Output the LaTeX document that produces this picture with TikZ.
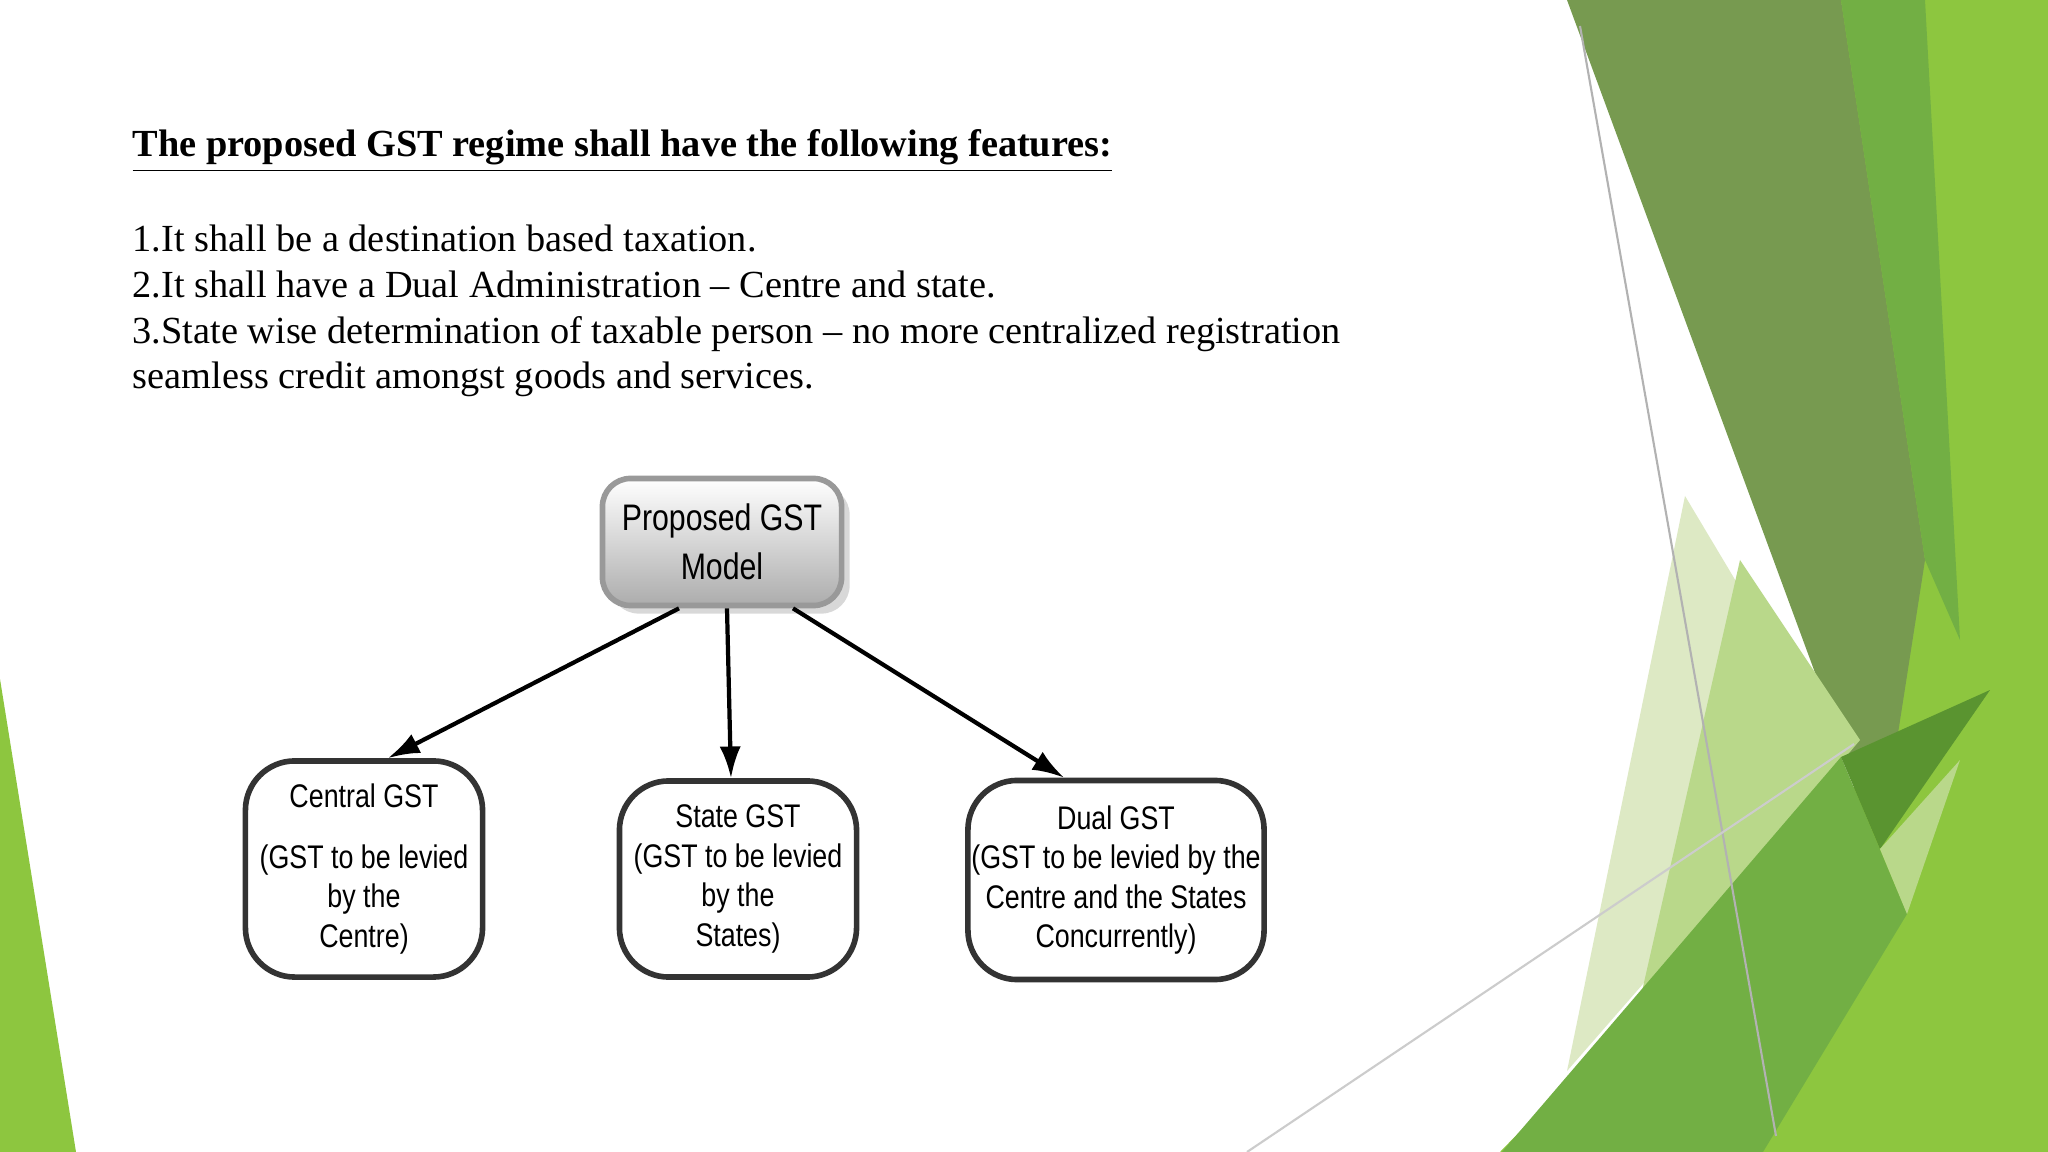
\documentclass[tikz,border=0pt]{standalone}
\usepackage{fontspec}
\setmainfont{Liberation Serif}
\newfontfamily\boxfont{Liberation Sans}[FakeStretch=0.82]
\usetikzlibrary{arrows.meta,shadows}
\definecolor{olive}{HTML}{779A50}
\definecolor{bright}{HTML}{8DC63F}
\definecolor{midg}{HTML}{72AF44}
\definecolor{pale}{HTML}{DDE9C4}
\definecolor{paler}{HTML}{B9D88A}
\definecolor{darkg}{HTML}{5A9430}
\begin{document}
\begin{tikzpicture}[x=0.01cm,y=-0.01cm,
  box/.style={draw=black!80,line width=1.6pt,rounded corners=14,fill=white,align=center,
    font=\boxfont\fontsize{9.3}{11.2}\selectfont,inner sep=0pt},
  arr/.style={line width=1.2pt,-{Latex[length=9pt,width=6pt]}},
  body/.style={anchor=base west,font=\fontsize{10.9}{12}\selectfont,inner sep=0}]
\useasboundingbox (0,0) rectangle (2048,1152);
\fill[white] (0,0) rectangle (2048,1152);
% decoration
\fill[bright] (0,679) -- (76,1152) -- (0,1152) -- cycle;
\fill[bright] (1841,0) -- (2048,0) -- (2048,1152) -- (1500,1152) -- (1880,760) -- cycle;
\fill[olive] (1567,0) -- (1841,0) -- (1925,560) -- (1880,849) -- cycle;
\fill[midg] (1841,0) -- (1925,0) -- (1960,640) -- (1925,560) -- cycle;
\fill[pale] (1685,496) -- (1841,757) -- (1567,1071) -- cycle;
\fill[paler] (1740,560) -- (1860,740) -- (1640,1000) -- cycle;
\fill[midg] (1502,1152) -- (1841,757) -- (1907,914) -- (1763,1152) -- cycle;
\fill[darkg] (1841,757) -- (1990,690) -- (1880,849) -- cycle;
\fill[paler] (1880,849) -- (1960,760) -- (1907,914) -- cycle;
\draw[gray!60,line width=0.6pt] (1580,26) -- (1776,1136);
\draw[gray!40,line width=0.6pt] (1247,1152) -- (1854,744);
% text
\node[body,font=\fontsize{10.9}{12}\selectfont\bfseries] (title) at (132,157) {\underline{The proposed GST regime shall have the following features:}};
\node[body] (l1) at (132,252) {1.It shall be a destination based taxation.};
\node[body] (l2) at (132,298) {2.It shall have a Dual Administration – Centre and state.};
\node[body] (l3) at (132,344) {3.State wise determination of taxable person – no more centralized registration};
\node[body] (l4) at (132,389) {seamless credit amongst goods and services.};
% diagram
\node[box,minimum width=2.39cm,minimum height=1.27cm,rounded corners=8,draw=gray!80,
  top color=white,bottom color=gray!65,drop shadow={opacity=0.3},
  font=\boxfont\fontsize{10.5}{14}\selectfont] (p) at (722,542) {Proposed GST\\Model};
\node[box,minimum width=2.37cm,minimum height=2.16cm] (c) at (364,869) {Central GST\\[6pt](GST to be levied\\by the\\Centre)};
\node[box,minimum width=2.37cm,minimum height=1.96cm] (s) at (738,879) {State GST\\(GST to be levied\\by the\\States)};
\node[box,minimum width=2.96cm,minimum height=1.99cm] (d) at (1116,880) {Dual GST\\(GST to be levied by the\\Centre and the States\\Concurrently)};
\coordinate (x1) at (679,0); \coordinate (x2) at (727,0); \coordinate (x3) at (793,0);
\coordinate (y1) at (388,0); \coordinate (y2) at (731,0); \coordinate (y3) at (1064,0);
\draw[arr] (p.south -| x1) -- (c.north -| y1);
\draw[arr] (p.south -| x2) -- (s.north -| y2);
\draw[arr] (p.south -| x3) -- (d.north -| y3);
\end{tikzpicture}
\end{document}
